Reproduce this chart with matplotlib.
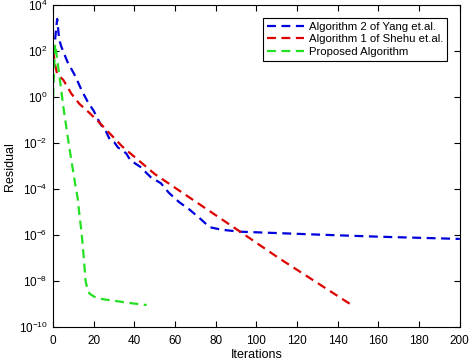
import matplotlib
matplotlib.use('Agg')
import matplotlib.pyplot as plt
import numpy as np

plt.rcParams['font.family'] = ['Liberation Sans', 'DejaVu Sans']
plt.rcParams['mathtext.default'] = 'regular'

# Algorithm 2 of Yang et.al.
yang_it = [1, 2, 3, 4, 7, 11, 14, 17, 20, 23, 26, 28, 30, 32, 34, 36, 38, 43, 48, 53,
           57, 62, 67, 72, 77, 83, 92, 106, 130, 160, 200]
yang_res = [3.2e2, 2.5e3, 3.2e2, 1.6e2, 3.5e1, 7.9, 2.0, 6.3e-1, 2.5e-1, 7.4e-2, 3.2e-2,
            1.35e-2, 1.1e-2, 6.3e-3, 5.0e-3, 3.5e-3, 1.8e-3, 9.1e-4, 3.3e-4, 1.8e-4,
            6.8e-5, 2.7e-5, 1.3e-5, 5.5e-6, 2.2e-6, 1.7e-6, 1.4e-6, 1.26e-6, 1.05e-6,
            8.5e-7, 6.8e-7]

# Algorithm 1 of Shehu et.al.
shehu_it = [0, 1, 2, 5, 9, 13, 18, 23, 34, 50, 69, 92, 111, 147]
shehu_res = [1.1e2, 2.5e1, 1.0e1, 5.6, 1.4, 5.0e-1, 2.0e-1, 7.4e-2, 7.1e-3, 4.5e-4,
             3.3e-5, 1.4e-6, 1.0e-7, 8.9e-10]

# Proposed Algorithm
prop_it = [0, 1, 3, 5, 8, 11, 12, 13, 14, 15, 16, 17, 18, 21, 25, 31, 38, 46]
prop_res = [1.0, 2.0e2, 1.0e1, 4.0e-1, 6.3e-3, 1.4e-4, 4.5e-5, 7.1e-6, 1.3e-6, 1.3e-7,
            1.0e-8, 4.0e-9, 2.8e-9, 1.9e-9, 1.6e-9, 1.35e-9, 1.1e-9, 9.1e-10]

fig = plt.figure(figsize=(4.74, 3.63), dpi=100)
ax = fig.add_axes([0.112, 0.099, 0.858, 0.887])

dash = (4, 2.5)
ax.semilogy(yang_it, yang_res, '--', color='#0000dd', lw=1.6, dashes=dash,
            label='Algorithm 2 of Yang et.al.')
ax.semilogy(shehu_it, shehu_res, '--', color='#dd0000', lw=1.6, dashes=dash,
            label='Algorithm 1 of Shehu et.al.')
ax.semilogy(prop_it, prop_res, '--', color='#22e022', lw=1.6, dashes=dash,
            label='Proposed Algorithm')

ax.set_xlim(0, 200)
ax.set_ylim(1e-10, 1e4)
ax.set_xticks(np.arange(0, 201, 20))
ax.set_yticks([10.0**k for k in range(-10, 5, 2)])
ax.yaxis.set_minor_locator(matplotlib.ticker.NullLocator())
ax.tick_params(direction='in', top=True, right=True, length=4, labelsize=8.5)
ax.tick_params(axis='x', pad=6)
ax.tick_params(axis='y', pad=4)
ax.set_xlabel('Iterations', fontsize=9, labelpad=1)
ax.set_ylabel('Residual', fontsize=9, labelpad=2)

leg = ax.legend(loc='upper right', fontsize=8.2, handlelength=3.3, fancybox=False,
                framealpha=1, edgecolor='black', borderaxespad=1.1,
                handletextpad=0.4, labelspacing=0.25, borderpad=0.35)
leg.get_frame().set_linewidth(0.8)

fig.savefig('out.png', dpi=100)
